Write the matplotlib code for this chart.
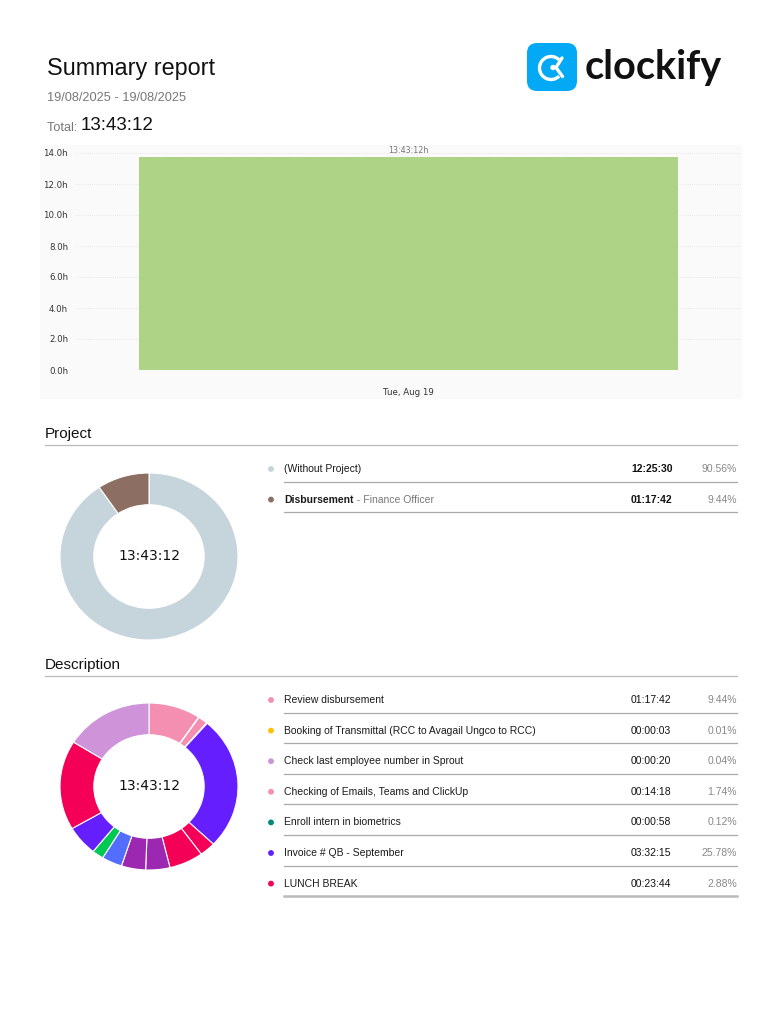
import matplotlib
matplotlib.use('Agg')
import matplotlib.pyplot as plt
from matplotlib.patches import FancyBboxPatch, Rectangle, Arc, Circle

# data

total_label = '13:43:12'
date_range = '19/08/2025 - 19/08/2025'

bar_days = ['Tue, Aug 19']
bar_hours = [13.72]
bar_labels = ['13:43:12h']
y_ticks = [0, 2, 4, 6, 8, 10, 12, 14]

project_names = ['(Without Project)', 'Disbursement']
project_clients = ['', 'Finance Officer']
project_times = ['12:25:30', '01:17:42']
project_pcts = [90.56, 9.44]
project_colors = ['#c6d4dc', '#8d6e63']

desc_names = ['Review disbursement', 'Booking of Transmittal (RCC to Avagail Ungco to RCC)',
              'Check last employee number in Sprout', 'Checking of Emails, Teams and ClickUp',
              'Enroll intern in biometrics', 'Invoice # QB - September', 'LUNCH BREAK']
desc_times = ['01:17:42', '00:00:03', '00:00:20', '00:14:18', '00:00:58', '03:32:15', '00:23:44']
desc_pcts = [9.44, 0.01, 0.04, 1.74, 0.12, 25.78, 2.88]
desc_colors = ['#f48fb1', '#ffc107', '#ce93d8', '#f48fb1', '#00897b', '#651fff', '#f50057']

# remaining descriptions (not listed on this page) estimated from the donut
more_pcts = [6.2, 4.4, 4.4, 3.7, 2.1, 5.8, 17.3, 16.09]
more_colors = ['#f50057', '#9c27b0', '#9c27b0', '#536dfe', '#00c853', '#651fff', '#f50057', '#ce93d8']

W, H = 768, 1024
body = ['Liberation Sans', 'DejaVu Sans']

fig = plt.figure(figsize=(W / 100, H / 100), dpi=100)
fig.patch.set_facecolor('white')

def box(x0, y0, x1, y1):
  return [x0 / W, 1 - y1 / H, (x1 - x0) / W, (y1 - y0) / H]

# page overlay in pixel coordinates
page = fig.add_axes([0, 0, 1, 1], zorder=0)
page.set_xlim(0, W)
page.set_ylim(H, 0)
page.axis('off')

page.text(47, 69, 'Summary report', fontsize=16.8, family=body, va='center', color='#111111')
page.text(47, 98, date_range, fontsize=9.2, family=body, va='center', color='#777777')
t = page.text(47, 131, 'Total: ', fontsize=9.2, family=body, va='baseline', color='#777777')
page.annotate(total_label, xy=(1, 0), xycoords=t, fontsize=13.5, family=body, va='bottom', color='#111111')

# clockify logo
page.add_patch(FancyBboxPatch((527, 43), 50, 48, boxstyle='round,pad=0,rounding_size=10',
                              facecolor='#03a9f4', edgecolor='none'))
page.add_patch(Arc((551, 68), 23, 23, theta1=45, theta2=315, color='white', lw=2.4))
page.add_patch(Circle((553, 67.5), 2, color='white'))
page.plot([562, 556, 562.5], [58, 67.5, 76.5], color='white', lw=2.4, solid_capstyle='round')
page.text(585, 67, 'clockify', fontsize=28.5, family=['Lato', 'DejaVu Sans'], fontweight='bold',
          va='center', color='#111111')

# bar chart panel
page.add_patch(Rectangle((40, 145), 702, 254, facecolor='#fafafa', edgecolor='none'))

bax = fig.add_axes(box(75, 153, 742, 370), zorder=1)
bax.patch.set_alpha(0)
xs = list(range(len(bar_days)))
bars = bax.bar(xs, bar_hours, width=0.808, color='#aed387', zorder=2)
for x, h, lab in zip(xs, bar_hours, bar_labels):
  bax.annotate(lab, xy=(x, h), xytext=(0, 2), textcoords='offset points', ha='center', va='bottom',
               fontsize=5.8, color='#777777', annotation_clip=False)
bax.set_xlim(-0.5, len(bar_days) - 0.5)
bax.set_ylim(0, 14)
bax.set_yticks(y_ticks)
bax.set_yticklabels(['%.1fh' % v for v in y_ticks])
bax.set_xticks(xs)
bax.set_xticklabels(bar_days)
bax.tick_params(axis='both', length=0, labelsize=6.2, colors='#333333')
bax.tick_params(axis='y', pad=5)
bax.tick_params(axis='x', pad=13)
bax.grid(axis='y', linestyle=(0, (1, 1.5)), color='#e3e3e3', lw=0.6, zorder=0)
for s in bax.spines.values():
  s.set_visible(False)

# section drawing helpers
def section(title, y):
  page.text(45, y, title, fontsize=11, family=body, va='center', color='#111111')
  page.plot([45, 737], [y + 11, y + 11], color='#bbbbbb', lw=0.9)

def rows(y0, names, times, pcts, colors, clients=None, bold_names=False):
  for i, name in enumerate(names):
    y = y0 + i * 30.6
    page.add_patch(Circle((271, y), 2.2, color=colors[i]))
    tn = page.text(284, y, name, fontsize=7.5, family=body, va='center', color='#1a1a1a',
                   fontweight='bold' if (bold_names and clients and clients[i]) else 'normal')
    if clients and clients[i]:
      page.annotate(' - ' + clients[i], xy=(1, 0.5), xycoords=tn, fontsize=7.5, family=body,
                    va='center', color='#777777')
    page.text(631, y, times[i], fontsize=7.5, family=body, va='center', color='#111111',
              fontweight='bold' if bold_names else 'normal')
    page.text(737, y, '%.2f%%' % pcts[i], fontsize=7.5, family=body, va='center', ha='right', color='#888888')
    last = i == len(names) - 1 and len(names) > 2
    page.plot([284, 737], [y + 12.5, y + 12.5], color='#bbbbbb' if last else '#aaaaaa', lw=1.8 if last else 0.9)

def donut(rect, values, colors):
  ax = fig.add_axes(rect, zorder=1)
  ax.pie(values, colors=colors, startangle=90, counterclock=False, radius=1,
         wedgeprops=dict(width=0.38, edgecolor='white', linewidth=0.8))
  ax.set_aspect('auto')
  ax.set_xlim(-1, 1)
  ax.set_ylim(-1, 1)
  ax.text(0, 0, total_label, ha='center', va='center', fontsize=10, family='DejaVu Sans', color='#111111')
  ax.axis('off')

# project section
section('Project', 434)
donut(box(60, 473, 238, 640), project_pcts, project_colors)
rows(469, project_names, project_times, project_pcts, project_colors, clients=project_clients, bold_names=True)

# description section
section('Description', 665)
donut(box(60, 703, 238, 870), desc_pcts + more_pcts, desc_colors + more_colors)
rows(700, desc_names, desc_times, desc_pcts, desc_colors)

fig.savefig('out.png', dpi=100)
